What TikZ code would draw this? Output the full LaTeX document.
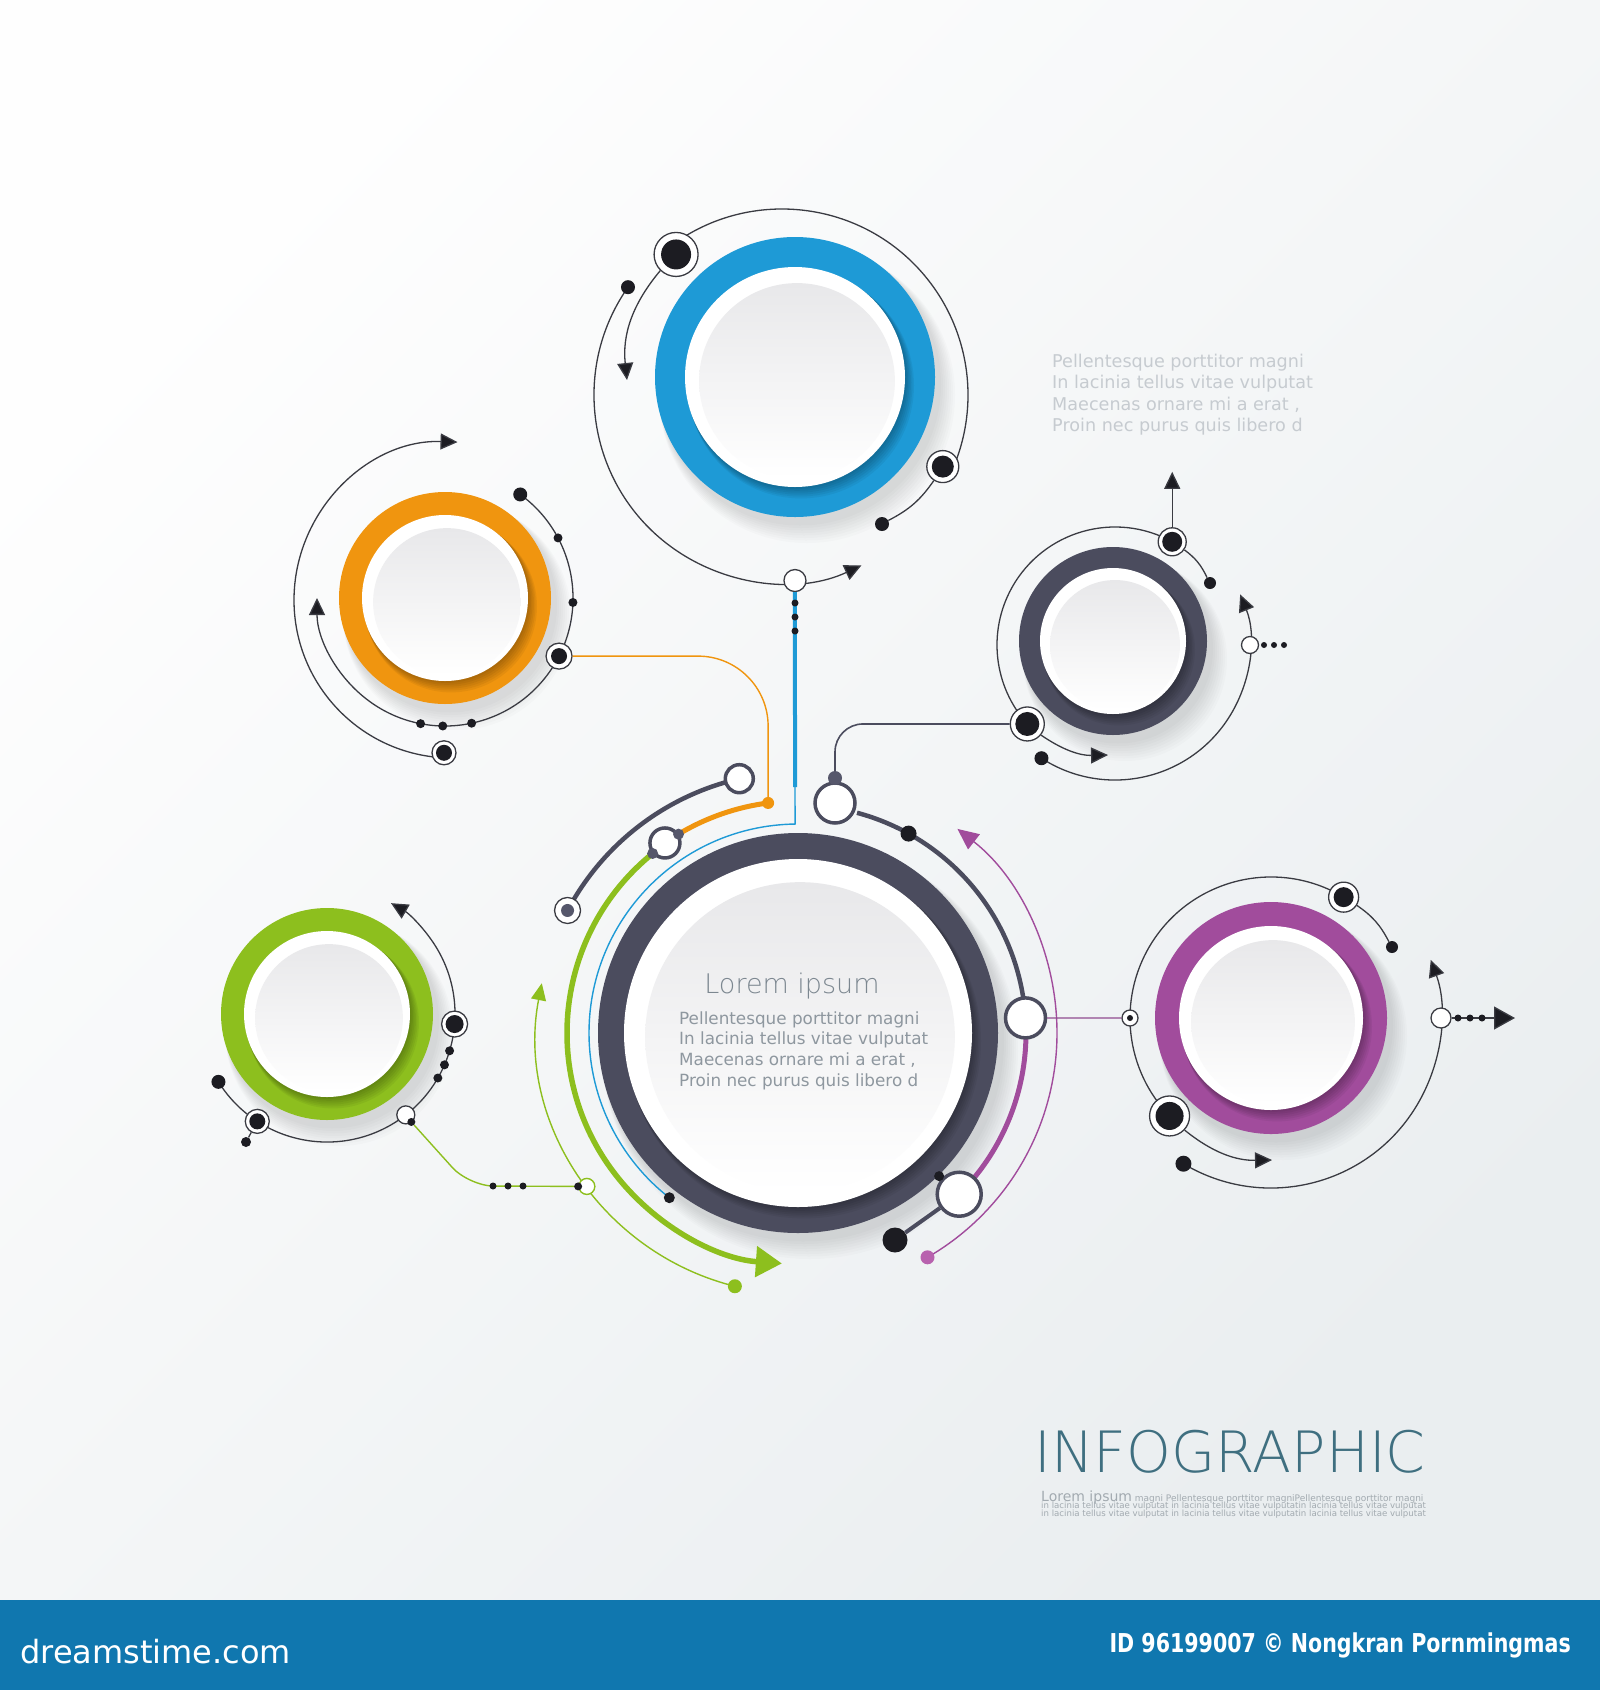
\documentclass[tikz,border=0pt]{standalone}
\usepackage{fontspec}
\usepackage{graphicx}
\setmainfont{DejaVu Sans}
\newfontfamily\thinfont{DejaVuSans-ExtraLight.ttf}
\newfontfamily\barfont{DejaVuSansCondensed-Bold.ttf}
\usetikzlibrary{arrows.meta,positioning}

\definecolor{bgtop}{HTML}{FEFEFE}
\definecolor{bgbottom}{HTML}{EAEEF0}
\definecolor{barblue}{HTML}{1077AF}
\definecolor{bluering}{HTML}{1E9AD6}
\definecolor{orangering}{HTML}{F0950F}
\definecolor{slatering}{HTML}{4B4C5E}
\definecolor{slatedot}{HTML}{56576B}
\definecolor{greenring}{HTML}{8DBF1E}
\definecolor{purplering}{HTML}{A14C9C}
\definecolor{purpledot}{HTML}{B862AE}
\definecolor{wireline}{HTML}{3A3B42}
\definecolor{dotblack}{HTML}{1C1C22}
\definecolor{discgray}{HTML}{E8E8EA}
\definecolor{hubtitle}{HTML}{7C8790}
\definecolor{hubbody}{HTML}{8E979F}
\definecolor{sidetext}{HTML}{C6CBD0}
\definecolor{infoteal}{HTML}{3F6F80}
\definecolor{smalltext}{HTML}{A2AAB0}

% coloured ring with a white paper disc on it
\newcommand{\infodisc}[4]{%
  \foreach \s in {1,...,8}
    \fill[black,opacity=0.014] ([shift={(4+\s,-6-1.5*\s)}]#1) circle[radius=#2+\s];
  \fill[#4] (#1) circle[radius=#2];
  \foreach \s in {1,...,6}
    \fill[black,opacity=0.05] ([shift={(\s,-1.4*\s)}]#1) circle[radius=#3+0.5*\s];
  \fill[white] (#1) circle[radius=#3];
  \shade[top color=discgray,bottom color=white] ([shift={(2,-4)}]#1) circle[radius=0.89*#3];
}

\tikzset{
  wire/.style={draw=wireline,line width=1.3pt},
  slatewire/.style={draw=slatering,line width=4.5pt},
  dotfill/.style={circle,fill=dotblack,inner sep=0pt},
  hole/.style={circle,draw=wireline,fill=white,line width=1.3pt,inner sep=0pt},
  bighole/.style={circle,draw=slatering,fill=white,line width=3.5pt,inner sep=0pt},
  orbittip/.style={-{Triangle[length=17pt,width=16pt,fill=dotblack]}},
  bodytext/.style={font=\fontsize{16.8}{20}\selectfont,text=hubbody,inner sep=0pt,anchor=base west},
  sidelines/.style={font=\fontsize{17.6}{21}\selectfont,text=sidetext,inner sep=0pt,anchor=base west},
}

\begin{document}
\begin{tikzpicture}[x=1pt,y=1pt]
\path[use as bounding box] (0,0) rectangle (1600,-1690);
\shade[top color=bgtop,bottom color=bgbottom,shading angle=45] (0,0) rectangle (1600,-1600);
\fill[barblue] (0,-1600) rectangle (1600,-1690);

% centres
\coordinate (hub) at (798,-1033);
\coordinate (blue) at (795,-377);
\coordinate (orange) at (445,-598);
\coordinate (slate) at (1113,-641);
\coordinate (green) at (327,-1014);
\coordinate (purple) at (1271,-1018);
\coordinate (borbit) at (782,-395);
\coordinate (oorbit) at (452,-600);
\coordinate (sorbit) at (1115,-645);

\infodisc{blue}{140}{110}{bluering}
\infodisc{orange}{106}{83}{orangering}
\infodisc{slate}{94}{73}{slatering}
\infodisc{green}{106}{83}{greenring}
\infodisc{purple}{116}{92}{purplering}
\infodisc{hub}{200}{174}{slatering}

% blue module
\draw[wire,orbittip] ([shift={(145:188)}]borbit) arc[start angle=145,end angle=295,radius=188];
\draw[wire] ([shift={(127:186)}]borbit) arc[start angle=127,end angle=-24,radius=186];
\node[hole,minimum size=44pt] (bn1) at ([shift={(127:176)}]borbit) {};
\node[dotfill,minimum size=30pt] (bn1c) at (bn1) {};
\node[hole,minimum size=32pt] (bn2) at ([shift={(-24:176)}]borbit) {};
\node[dotfill,minimum size=22pt] (bn2c) at (bn2) {};
\node[dotfill,minimum size=14pt] (bd1) at ([shift={(145:188)}]borbit) {};
\node[dotfill,minimum size=14pt] (bd2) at (882,-524) {};
\coordinate (ba1) at (627,-380);
\draw[wire,orbittip] (bn1) to[bend right=23] (ba1);
\draw[wire] (bn2) to[bend left=14] (bd2);
\coordinate (bfoot) at (795,-787);
\draw[draw=bluering,line width=1.4pt] (bfoot) -- ([shift={(90.8:209)}]hub) arc[start angle=90.8,end angle=232,radius=209];
\node[hole,minimum size=22pt] (bo1) at ([shift={(274:186)}]borbit) {};
\draw[draw=bluering,line width=4pt] (bo1) -- (bfoot);
\foreach \y [count=\i] in {603,617,631}
  \node[dotfill,minimum size=7pt] (bline\i) at (795,-\y) {};
\node[dotfill,minimum size=11pt] (bend) at ([shift={(232:209)}]hub) {};

% orange module
\draw[wire,orbittip] ([shift={(267:158)}]oorbit) arc[start angle=267,end angle=88,radius=158];
\draw[wire,orbittip] ([shift={(54:128)}]orange) arc[start angle=54,end angle=-180,radius=128];
\node[hole,minimum size=24pt] (onb) at ([shift={(267:153)}]oorbit) {};
\node[dotfill,minimum size=16pt] (onbc) at (onb) {};
\node[dotfill,minimum size=14pt] (od0) at ([shift={(54:128)}]orange) {};
\foreach \a [count=\i] in {28,-2,-78,-91,-101}
  \node[dotfill,minimum size=9pt] (od\i) at ([shift={(\a:128)}]orange) {};
\node[hole,minimum size=26pt] (onr) at ([shift={(-27:128)}]orange) {};
\node[dotfill,minimum size=16pt] (onrc) at (onr) {};
\coordinate (otop) at ([shift={(97.4:232)}]hub);
\draw[draw=orangering,line width=1.4pt,rounded corners=70pt] (onr) -- (otop |- onr) -- (otop);
\draw[draw=orangering,line width=5pt] (otop) arc[start angle=97.4,end angle=121,radius=232];
\node[circle,fill=orangering,minimum size=12pt,inner sep=0pt] (odot) at (otop) {};

% green arcs round the hub
\draw[draw=greenring,line width=5.5pt,-{Triangle[length=26pt,width=30pt]}] ([shift={(129:231)}]hub) arc[start angle=129,end angle=266,radius=231];
\draw[draw=greenring,line width=1.4pt,-{Triangle[length=17pt,width=15pt]}] ([shift={(256:261)}]hub) arc[start angle=256,end angle=169,radius=261];
\node[circle,fill=greenring,minimum size=14pt,inner sep=0pt] (gd0) at ([shift={(256:261)}]hub) {};
\node[bighole,minimum size=30pt] (hh1) at ([shift={(125:232)}]hub) {};
\node[circle,fill=slatedot,minimum size=11pt,inner sep=0pt] (hh1a) at ([shift={(121:232)}]hub) {};
\node[circle,fill=slatedot,minimum size=11pt,inner sep=0pt] (hh1b) at ([shift={(129:231)}]hub) {};

% slate arc top left of the hub
\draw[slatewire] ([shift={(103:261)}]hub) arc[start angle=103,end angle=152,radius=261];
\node[bighole,minimum size=28pt] (hh2) at ([shift={(103:261)}]hub) {};
\node[hole,minimum size=26pt] (hh3) at ([shift={(152:261)}]hub) {};
\node[circle,fill=slatedot,minimum size=13pt,inner sep=0pt] (hh3c) at (hh3) {};

% slate module
\draw[wire] ([shift={(61:118)}]sorbit) arc[start angle=61,end angle=222,radius=118];
\draw[wire,orbittip] ([shift={(237:135)}]sorbit) arc[start angle=237,end angle=382,radius=135];
\node[hole,minimum size=28pt] (snt) at ([shift={(61:118)}]sorbit) {};
\node[dotfill,minimum size=20pt] (sntc) at (snt) {};
\node[hole,minimum size=34pt] (snl) at ([shift={(222:118)}]sorbit) {};
\node[dotfill,minimum size=24pt] (snlc) at (snl) {};
\node[dotfill,minimum size=14pt] (sd1) at ([shift={(237:135)}]sorbit) {};
\node[dotfill,minimum size=12pt] (sd2) at (1210,-583) {};
\node[hole,minimum size=17pt] (snr) at ([shift={(0:135)}]sorbit) {};
\foreach \x [count=\i] in {1264,1274,1284}
  \node[dotfill,minimum size=6pt] (sdot\i) at (\x,-645) {};
\coordinate (stop) at ([yshift=70pt]snt.center);
\draw[wire,orbittip] (snt) -- (stop);
\draw[wire] (snt) to[bend left=14] (sd2);
\coordinate (sa1) at (1108,-755);
\draw[wire,orbittip] (snl) to[bend right=18] (sa1);

% slate link down to the hub
\node[bighole,minimum size=40pt] (hh4) at (835,-803) {};
\node[circle,fill=slatedot,minimum size=14pt,inner sep=0pt] (hh4c) at (835,-778) {};
\draw[draw=slatering,line width=1.6pt,rounded corners=28pt] (snl) -- (hh4c |- snl) -- (hh4c);
\draw[slatewire] ([shift={(75:228)}]hub) arc[start angle=75,end angle=3.8,radius=228];
\node[dotfill,minimum size=16pt] (hd1) at ([shift={(61:228)}]hub) {};
\draw[draw=purplering,line width=5pt] ([shift={(3.8:228)}]hub) arc[start angle=3.8,end angle=-45,radius=228];
\draw[draw=purplering,line width=1.4pt,-{Triangle[length=21pt,width=19pt]}] ([shift={(-60:259)}]hub) arc[start angle=-60,end angle=52,radius=259];
\node[circle,fill=purpledot,minimum size=14pt,inner sep=0pt] (pd0) at ([shift={(-60:259)}]hub) {};
\node[bighole,minimum size=40pt] (hh5) at ([shift={(3.8:228)}]hub) {};
\node[bighole,minimum size=44pt] (hh6) at ([shift={(-45:228)}]hub) {};
\node[dotfill,minimum size=10pt] (hd2) at ([shift={(-45.4:201)}]hub) {};
\node[dotfill,minimum size=25pt] (hd3) at (895,-1240) {};
\draw[slatewire,line width=4pt] (hh6) -- (hd3);

% purple module
\draw[wire] ([shift={(59:141)}]purple) arc[start angle=59,end angle=224,radius=141];
\draw[wire,orbittip] ([shift={(239:170)}]purple) arc[start angle=239,end angle=380,radius=170];
\node[hole,minimum size=30pt] (pnt) at ([shift={(59:141)}]purple) {};
\node[dotfill,minimum size=20pt] (pntc) at (pnt) {};
\node[dotfill,minimum size=12pt] (pd1) at (1392,-947) {};
\node[hole,minimum size=16pt] (pnl) at ([shift={(180:141)}]purple) {};
\node[dotfill,minimum size=6pt] (pnlc) at (pnl) {};
\node[hole,minimum size=40pt] (pnb) at ([shift={(224:141)}]purple) {};
\node[dotfill,minimum size=28pt] (pnbc) at (pnb) {};
\node[dotfill,minimum size=16pt] (pd2) at ([shift={(239:170)}]purple) {};
\node[hole,minimum size=20pt] (pnr) at ([shift={(0:170)}]purple) {};
\draw[wire] (pnt) to[bend left=14] (pd1);
\coordinate (pa1) at (1272,-1160);
\draw[wire,orbittip] (pnb) to[bend right=20] (pa1);
\coordinate (pa2) at (1515,-1018);
\draw[wire,-{Triangle[length=21pt,width=23pt,fill=dotblack]}] (pnr) -- (pa2);
\foreach \x [count=\i] in {1458,1470,1482}
  \node[dotfill,minimum size=7pt] (pdot\i) at (\x,-1018) {};
\draw[draw=purplering!80!slatering,line width=1.3pt] (hh5) -- (pnl);

% green module
\draw[wire,orbittip] ([shift={(-148:128)}]green) arc[start angle=-148,end angle=60,radius=128];
\node[dotfill,minimum size=14pt] (gd1) at ([shift={(-148:128)}]green) {};
\node[hole,minimum size=24pt] (gnl) at ([shift={(-123:128)}]green) {};
\node[dotfill,minimum size=16pt] (gnlc) at (gnl) {};
\node[dotfill,minimum size=10pt] (gd2) at (246,-1142) {};
\draw[wire] (gnl) -- (gd2);
\node[hole,minimum size=18pt] (gh1) at ([shift={(-52:128)}]green) {};
\node[hole,minimum size=26pt] (gnr) at ([shift={(-4.5:128)}]green) {};
\node[dotfill,minimum size=18pt] (gnrc) at (gnr) {};
\foreach \a [count=\i] in {-16.7,-23.4,-30}
  \node[dotfill,minimum size=9pt] (gdot\i) at ([shift={(\a:128)}]green) {};
\node[circle,draw=greenring,fill=white,line width=1.4pt,minimum size=16pt,inner sep=0pt] (gh2) at ([shift={(216:261)}]hub) {};
\node[dotfill,minimum size=8pt] (gc0) at ([shift={(-52:9)}]gh1) {};
\coordinate (gcorner) at (469,-1186);
\draw[draw=greenring,line width=1.4pt,rounded corners=25pt] (gc0) -- (gcorner) -- (gh2);
\foreach \x [count=\i] in {493,508,523}
  \node[dotfill,minimum size=7pt] (gline\i) at (\x,-1186) {};
\node[dotfill,minimum size=8pt] (gc4) at (gh2.west) {};

% texts
\node[font=\thinfont\fontsize{27}{32}\selectfont,text=hubtitle,anchor=base,inner sep=0pt] (hubhead) at (792,-993) {Lorem ipsum};
\foreach \ln [count=\i] in {Pellentesque porttitor magni,In lacinia tellus vitae vulputat,{Maecenas ornare mi a erat ,},Proin nec purus quis libero d}
  \node[bodytext] (hubline\i) at (679,{-1024-20.7*(\i-1)}) {\ln};
\foreach \ln [count=\i] in {Pellentesque porttitor magni,In lacinia tellus vitae vulputat,{Maecenas ornare mi a erat ,},Proin nec purus quis libero d}
  \node[sidelines] (sideline\i) at (1052,{-367-21.6*(\i-1)}) {\ln};
\node[font=\thinfont\fontsize{57}{60}\selectfont,text=infoteal,anchor=base west,inner sep=0pt] (infohead) at (1034,-1472) {INFOGRAPHIC};
\node[text=smalltext,anchor=base west,inner sep=0pt] (inforow1) at (1041,-1501) {{\fontsize{14}{16}\selectfont Lorem ipsum}{\fontsize{9}{8}\selectfont\ magni Pellentesque porttitor magniPellentesque porttitor magni}};
\node[text=smalltext,anchor=base west,inner sep=0pt,font=\fontsize{8.6}{8}\selectfont] (inforow2) at (1041,-1508.7) {in lacinia tellus vitae vulputat in lacinia tellus vitae vulputatin lacinia tellus vitae vulputat};
\node[text=smalltext,anchor=base west,inner sep=0pt,font=\fontsize{8.6}{8}\selectfont] (inforow3) at (1041,-1516) {in lacinia tellus vitae vulputat in lacinia tellus vitae vulputatin lacinia tellus vitae vulputat};
\node[anchor=west,text=white,font=\fontsize{32}{36}\selectfont,inner sep=0pt] (brand) at (20,-1652) {dreamstime.com};
\node[anchor=east,text=white,font=\barfont\fontsize{26}{30}\selectfont,inner sep=0pt] (credit) at (1571,-1645) {\scalebox{0.88}[1]{ID 96199007 © Nongkran Pornmingmas}};
\end{tikzpicture}
\end{document}
